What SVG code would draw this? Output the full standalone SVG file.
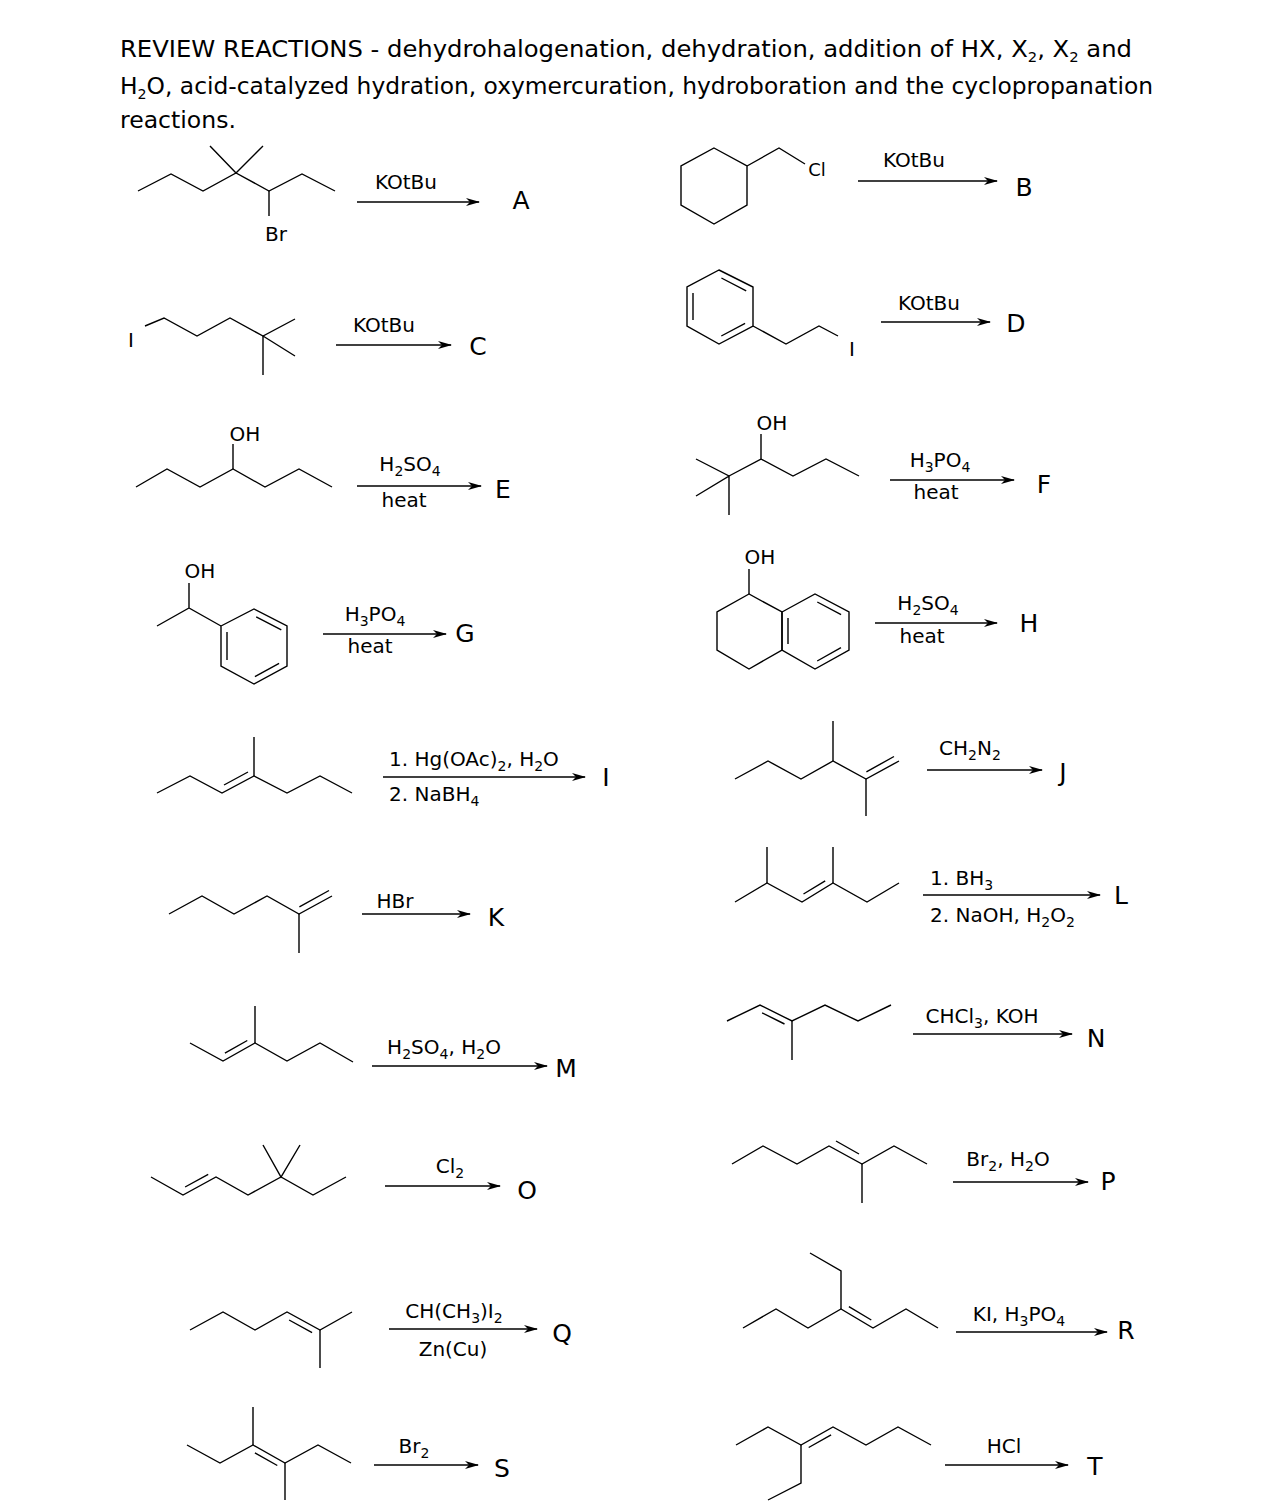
<svg xmlns="http://www.w3.org/2000/svg" width="1284" height="1502" viewBox="0 0 1284 1502">
<defs>
<marker id="ah" markerWidth="14" markerHeight="8" refX="13" refY="4" orient="auto" markerUnits="userSpaceOnUse"><path d="M0,0 L14,4 L0,8 L4,4 Z" fill="#000"/></marker>
<style>
.b{fill:none;stroke:#000;stroke-width:1.4;stroke-linejoin:miter}
.a{fill:none;stroke:#000;stroke-width:1.4;marker-end:url(#ah)}
text{font-family:"DejaVu Sans","Liberation Sans",sans-serif;font-size:20px;fill:#000}
.ttl{font-size:23px}
.m{text-anchor:middle}
.s{font-size:14px}
.p{font-size:25px;text-anchor:middle}
</style>
</defs>
<rect width="1284" height="1502" fill="#fff"/>
<g id="title">
<text class="ttl" x="120" y="57" textLength="1012" lengthAdjust="spacingAndGlyphs">REVIEW REACTIONS - dehydrohalogenation, dehydration, addition of HX, X<tspan class="s" dy="5">2</tspan><tspan dy="-5">, X</tspan><tspan class="s" dy="5">2</tspan><tspan dy="-5"> and</tspan></text>
<text class="ttl" x="120" y="94" textLength="1033" lengthAdjust="spacingAndGlyphs">H<tspan class="s" dy="5">2</tspan><tspan dy="-5">O, acid-catalyzed hydration, oxymercuration, hydroboration and the cyclopropanation</tspan></text>
<text class="ttl" x="120" y="128" textLength="116" lengthAdjust="spacingAndGlyphs">reactions.</text>
</g>
<g id="mA"><polyline class="b" points="138,191 171,174 203,191 236,173 269,191 302,174 335,191"/><path class="b" d="M210,146 L236,173 L263,146 M269,191 L269,216"/><text class="m" x="276" y="241">Br</text></g>
<g id="mC"><text class="m" x="131" y="347">I</text><polyline class="b" points="145,326 164,318 197,336 230,318 263,336 295,319"/><path class="b" d="M263,336 L295,356 M263,336 L263,375"/></g>
<g id="mE"><polyline class="b" points="136,487 167,469 200,487 233,469 265,487 299,469 332,487"/><path class="b" d="M233,469 L233,444"/><text class="m" x="245" y="441">OH</text></g>
<g id="mG"><path class="b" d="M157,626 L189,608 L221,626 M189,608 L189,583"/><text class="m" x="200" y="578">OH</text><polygon class="b" points="221,626 254,609 287,626 287,666 254,684 221,666"/><path class="b" d="M256.2,616.9 L281.3,629.8 M227,632 L227,660 M279.1,663.4 L254.9,676.6"/></g>
<g id="mB"><polygon class="b" points="714,148 747,166 747,205 714,224 681,205 681,166"/><polyline class="b" points="747,166 779,148 805,164"/><text class="m" x="817" y="176" style="font-size:18px">Cl</text></g>
<g id="mD"><polygon class="b" points="719,270 753,287 753,326 719,344 687,326 687,287"/><path class="b" d="M693,293 L693,320 M721.4,278 L746.2,290.9 M745.1,323.4 L721.3,336"/><polyline class="b" points="753,326 786,344 819,326 838,336"/><text class="m" x="852" y="356">I</text></g>
<g id="mF"><path class="b" d="M696,459 L729,476 L696,496 M729,476 L729,515 M729,476 L761,459 L761,434"/><polyline class="b" points="761,459 793,476 826,459 859,476"/><text class="m" x="772" y="430">OH</text></g>
<g id="mH"><text class="m" x="760" y="564">OH</text><path class="b" d="M749,569 L749,594"/><polygon class="b" points="749,594 717,612 717,650 749,669 782,650 782,612"/><polygon class="b" points="782,612 815,594 849,612 849,650 815,669 782,650"/><path class="b" d="M788,618 L788,644 M817.3,602 L841.1,614.6 M841,647.7 L817.2,661"/></g>
<g id="mI"><polyline class="b" points="157,793 190,776 222,793 254,776 287,793 320,776 352,793"/><path class="b" d="M254,776 L254,737 M224,785 L248,772"/></g>
<g id="mK"><polyline class="b" points="169,914 202,896 234,914 267,896 299,914 332,896"/><path class="b" d="M299.4,906.9 L329,890.5 M299,914 L299,953"/></g>
<g id="mM"><polyline class="b" points="190,1043 223,1061 255,1043 287,1061 320,1043 353,1062"/><path class="b" d="M255,1043 L255,1006 M224.9,1053.1 L247.3,1040.5"/></g>
<g id="mO"><polyline class="b" points="151,1177 183,1195 216,1177 248,1195 281,1177 313,1195 346,1177"/><path class="b" d="M263,1145 L281,1177 L300,1145 M185.1,1187 L208.2,1174.4"/></g>
<g id="mQ"><polyline class="b" points="190,1330 223,1312 255,1330 287,1312 320,1330 352,1312"/><path class="b" d="M320,1330 L320,1368 M289.1,1320 L312.1,1332.6"/></g>
<g id="mS"><polyline class="b" points="187,1445 220,1463 253,1445 285,1463 318,1445 351,1463"/><path class="b" d="M253,1445 L253,1407 M285,1463 L285,1500 M254.9,1452.9 L277.3,1465.5"/></g>
<g id="mJ"><polyline class="b" points="735,779 768,761 801,779 833,761 866,779 899,761"/><path class="b" d="M833,761 L833,721 M866,779 L866,816 M866.4,771.9 L894,756.5"/></g>
<g id="mL"><polyline class="b" points="735,902 767,883 802,902 833,883 867,902 899,883"/><path class="b" d="M767,883 L767,847 M833,883 L833,847 M803.5,894 L825.2,880.8"/></g>
<g id="mN"><polyline class="b" points="727,1021 760,1005 792,1021 825,1005 858,1021 891,1005"/><path class="b" d="M792,1021 L792,1060 M762.1,1012.8 L784.5,1024"/></g>
<g id="mP"><polyline class="b" points="732,1164 763,1146 797,1164 829,1146 862,1164 894,1146 927,1164"/><path class="b" d="M862,1164 L862,1203 M836,1141 L859,1154"/></g>
<g id="mR"><polyline class="b" points="743,1328 776,1309 808,1328 841,1309 873,1328 906,1309 938,1328"/><path class="b" d="M841,1309 L841,1271 L810,1253 M848.9,1306.7 L871.3,1320"/></g>
<g id="mT"><polyline class="b" points="736,1445 768,1427 801,1445 833,1427 866,1445 898,1427 931,1445"/><path class="b" d="M801,1445 L801,1483 L768,1500 M808.7,1447.5 L831.1,1434.8"/></g>
<g id="connectors">
<line class="a" x1="357" y1="202" x2="479" y2="202"/>
<line class="a" x1="858" y1="181" x2="997" y2="181"/>
<line class="a" x1="336" y1="345" x2="451" y2="345"/>
<line class="a" x1="881" y1="322" x2="990" y2="322"/>
<line class="a" x1="357" y1="486" x2="481" y2="486"/>
<line class="a" x1="890" y1="480" x2="1014" y2="480"/>
<line class="a" x1="323" y1="634" x2="446" y2="634"/>
<line class="a" x1="875" y1="623" x2="997" y2="623"/>
<line class="a" x1="383" y1="777" x2="585" y2="777"/>
<line class="a" x1="927" y1="770" x2="1042" y2="770"/>
<line class="a" x1="362" y1="914" x2="470" y2="914"/>
<line class="a" x1="923" y1="895" x2="1100" y2="895"/>
<line class="a" x1="372" y1="1066" x2="547" y2="1066"/>
<line class="a" x1="913" y1="1034" x2="1072" y2="1034"/>
<line class="a" x1="385" y1="1186" x2="500" y2="1186"/>
<line class="a" x1="953" y1="1182" x2="1088" y2="1182"/>
<line class="a" x1="389" y1="1329" x2="537" y2="1329"/>
<line class="a" x1="956" y1="1332" x2="1107" y2="1332"/>
<line class="a" x1="374" y1="1465" x2="478" y2="1465"/>
<line class="a" x1="945" y1="1465" x2="1068" y2="1465"/>
</g>
<g id="labels">
<text class="m" x="406" y="189">KOtBu</text><text class="p" x="521" y="209">A</text>
<text class="m" x="914" y="167">KOtBu</text><text class="p" x="1024" y="196">B</text>
<text class="m" x="384" y="332">KOtBu</text><text class="p" x="478" y="355">C</text>
<text class="m" x="929" y="310">KOtBu</text><text class="p" x="1016" y="332">D</text>
<text class="m" x="410" y="471">H<tspan class="s" dy="5">2</tspan><tspan dy="-5">SO</tspan><tspan class="s" dy="5">4</tspan></text><text class="m" x="404" y="507">heat</text><text class="p" x="503" y="498">E</text>
<text class="m" x="940" y="467">H<tspan class="s" dy="5">3</tspan><tspan dy="-5">PO</tspan><tspan class="s" dy="5">4</tspan></text><text class="m" x="936" y="499">heat</text><text class="p" x="1044" y="493">F</text>
<text class="m" x="375" y="621">H<tspan class="s" dy="5">3</tspan><tspan dy="-5">PO</tspan><tspan class="s" dy="5">4</tspan></text><text class="m" x="370" y="653">heat</text><text class="p" x="465" y="642">G</text>
<text class="m" x="928" y="610">H<tspan class="s" dy="5">2</tspan><tspan dy="-5">SO</tspan><tspan class="s" dy="5">4</tspan></text><text class="m" x="922" y="643">heat</text><text class="p" x="1029" y="632">H</text>
<text x="389" y="766">1. Hg(OAc)<tspan class="s" dy="5">2</tspan><tspan dy="-5">, H</tspan><tspan class="s" dy="5">2</tspan><tspan dy="-5">O</tspan></text><text x="389" y="801">2. NaBH<tspan class="s" dy="5">4</tspan></text><text class="p" x="606" y="786">I</text>
<text class="m" x="970" y="755">CH<tspan class="s" dy="5">2</tspan><tspan dy="-5">N</tspan><tspan class="s" dy="5">2</tspan></text><text class="p" x="1063" y="781">J</text>
<text class="m" x="395" y="908">HBr</text><text class="p" x="496" y="926">K</text>
<text x="930" y="885">1. BH<tspan class="s" dy="5">3</tspan></text><text x="930" y="922">2. NaOH, H<tspan class="s" dy="5">2</tspan><tspan dy="-5">O</tspan><tspan class="s" dy="5">2</tspan></text><text class="p" x="1121" y="904">L</text>
<text class="m" x="444" y="1054">H<tspan class="s" dy="5">2</tspan><tspan dy="-5">SO</tspan><tspan class="s" dy="5">4</tspan><tspan dy="-5">, H</tspan><tspan class="s" dy="5">2</tspan><tspan dy="-5">O</tspan></text><text class="p" x="566" y="1077">M</text>
<text class="m" x="982" y="1023">CHCl<tspan class="s" dy="5">3</tspan><tspan dy="-5">, KOH</tspan></text><text class="p" x="1096" y="1047">N</text>
<text class="m" x="450" y="1173">Cl<tspan class="s" dy="5">2</tspan></text><text class="p" x="527" y="1199">O</text>
<text class="m" x="1008" y="1166">Br<tspan class="s" dy="5">2</tspan><tspan dy="-5">, H</tspan><tspan class="s" dy="5">2</tspan><tspan dy="-5">O</tspan></text><text class="p" x="1108" y="1190">P</text>
<text class="m" x="454" y="1318">CH(CH<tspan class="s" dy="5">3</tspan><tspan dy="-5">)I</tspan><tspan class="s" dy="5">2</tspan></text><text class="m" x="453" y="1356">Zn(Cu)</text><text class="p" x="562" y="1342">Q</text>
<text class="m" x="1019" y="1321">KI, H<tspan class="s" dy="5">3</tspan><tspan dy="-5">PO</tspan><tspan class="s" dy="5">4</tspan></text><text class="p" x="1126" y="1339">R</text>
<text class="m" x="414" y="1453">Br<tspan class="s" dy="5">2</tspan></text><text class="p" x="502" y="1477">S</text>
<text class="m" x="1004" y="1453">HCl</text><text class="p" x="1095" y="1475">T</text>
</g>
</svg>
